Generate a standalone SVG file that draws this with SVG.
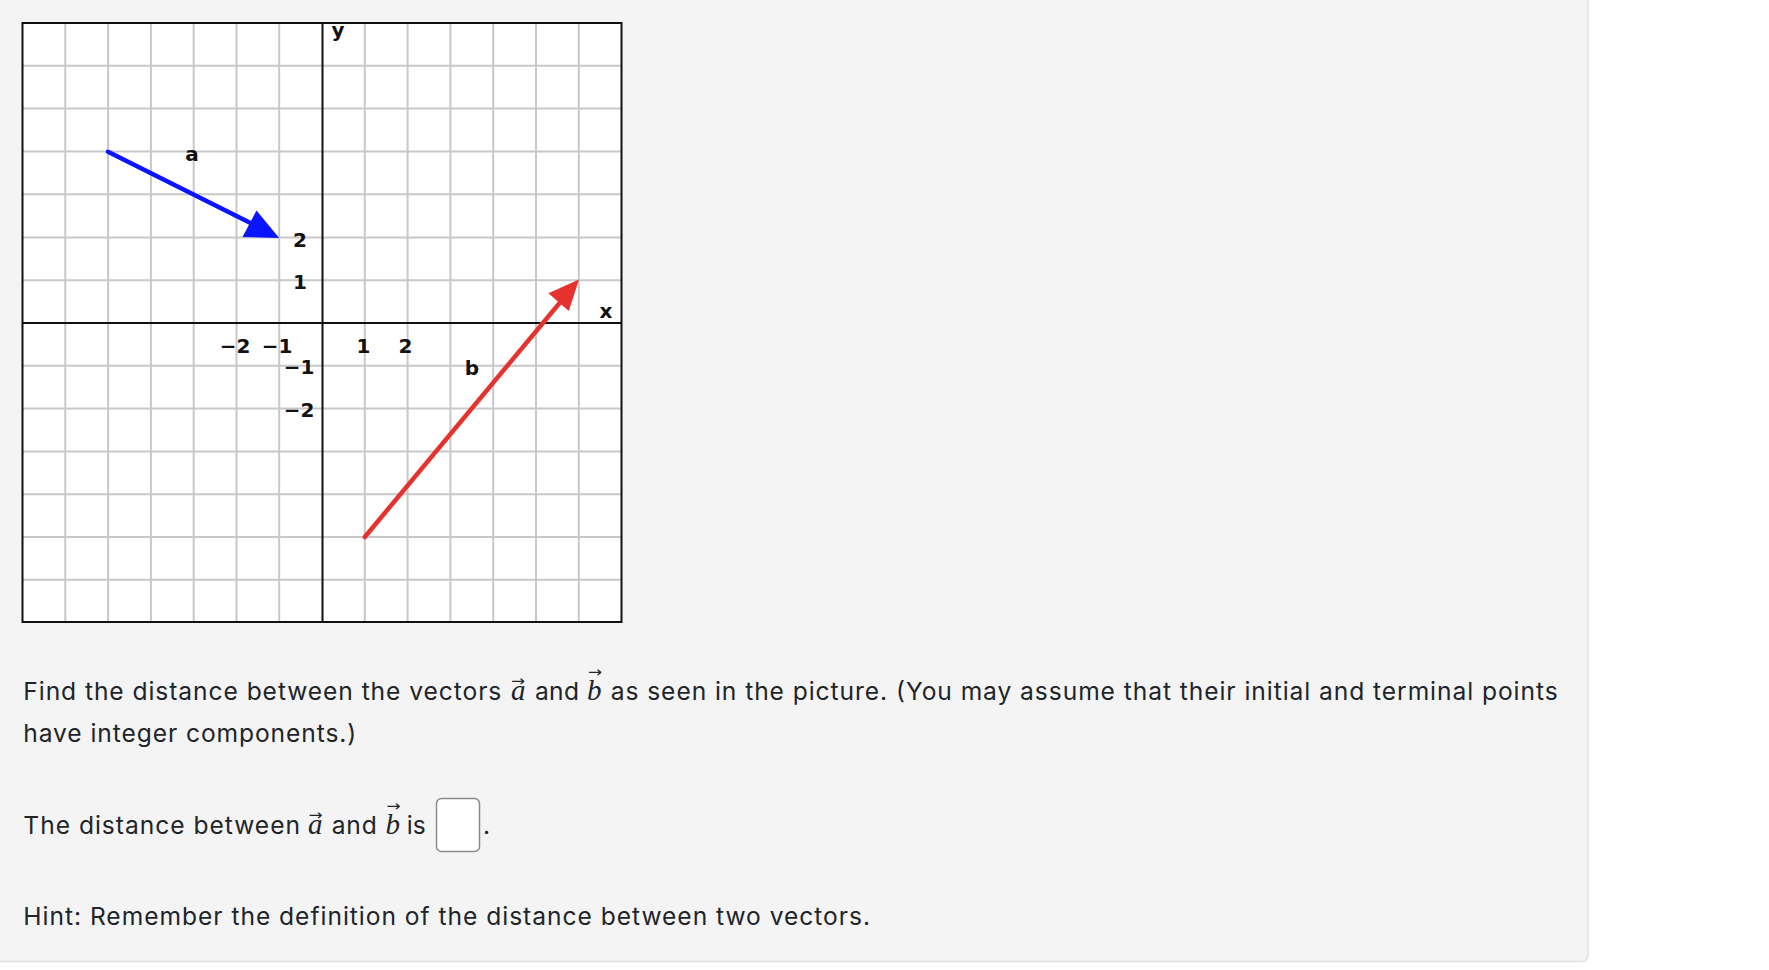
<svg xmlns="http://www.w3.org/2000/svg" width="1769" height="970" viewBox="0 0 1769 970">
  <style>
    .grid { stroke: #c8c8c8; stroke-width: 2; }
    .axis { stroke: #111; stroke-width: 2; }
    .lbl { font-family: "DejaVu Sans", "Liberation Sans", sans-serif; font-weight: bold; font-size: 20px; fill: #111; text-anchor: middle; }
    .txt { font-family: Inter, "Noto Sans", "Liberation Sans", sans-serif; font-size: 24.6px; fill: #212529; }
    .math { font-family: "Liberation Serif", "DejaVu Serif", serif; font-style: italic; font-size: 29px; fill: #212529; }
    .vec { font-family: "DejaVu Sans", "Liberation Sans", sans-serif; font-size: 15px; fill: #212529; }
  </style>
  <rect x="0" y="0" width="1769" height="970" fill="#ffffff"/>
  <rect id="panel" x="-10" y="-10" width="1598" height="971.5" rx="6" fill="#f4f4f4" stroke="#e2e2e2" stroke-width="1.5"/>

  <g id="graph">
    <rect x="22.5" y="23" width="599" height="599" fill="#ffffff"/>
    <g id="gridlines">
      <line class="grid" x1="65.3" y1="23" x2="65.3" y2="622"/>
      <line class="grid" x1="108.1" y1="23" x2="108.1" y2="622"/>
      <line class="grid" x1="150.9" y1="23" x2="150.9" y2="622"/>
      <line class="grid" x1="193.7" y1="23" x2="193.7" y2="622"/>
      <line class="grid" x1="236.5" y1="23" x2="236.5" y2="622"/>
      <line class="grid" x1="279.2" y1="23" x2="279.2" y2="622"/>
      <line class="grid" x1="364.8" y1="23" x2="364.8" y2="622"/>
      <line class="grid" x1="407.6" y1="23" x2="407.6" y2="622"/>
      <line class="grid" x1="450.4" y1="23" x2="450.4" y2="622"/>
      <line class="grid" x1="493.2" y1="23" x2="493.2" y2="622"/>
      <line class="grid" x1="536.0" y1="23" x2="536.0" y2="622"/>
      <line class="grid" x1="578.8" y1="23" x2="578.8" y2="622"/>
      <line class="grid" x1="22.5" y1="65.8" x2="621.5" y2="65.8"/>
      <line class="grid" x1="22.5" y1="108.6" x2="621.5" y2="108.6"/>
      <line class="grid" x1="22.5" y1="151.4" x2="621.5" y2="151.4"/>
      <line class="grid" x1="22.5" y1="194.2" x2="621.5" y2="194.2"/>
      <line class="grid" x1="22.5" y1="237.4" x2="621.5" y2="237.4"/>
      <line class="grid" x1="22.5" y1="280.2" x2="621.5" y2="280.2"/>
      <line class="grid" x1="22.5" y1="365.8" x2="621.5" y2="365.8"/>
      <line class="grid" x1="22.5" y1="408.6" x2="621.5" y2="408.6"/>
      <line class="grid" x1="22.5" y1="451.4" x2="621.5" y2="451.4"/>
      <line class="grid" x1="22.5" y1="494.2" x2="621.5" y2="494.2"/>
      <line class="grid" x1="22.5" y1="537.0" x2="621.5" y2="537.0"/>
      <line class="grid" x1="22.5" y1="579.8" x2="621.5" y2="579.8"/>
    </g>
    <g id="axes">
      <line class="axis" x1="322.5" y1="23" x2="322.5" y2="622"/>
      <line class="axis" x1="22.5" y1="323" x2="621.5" y2="323"/>
    </g>
    <rect x="22.5" y="23" width="599" height="599" fill="none" stroke="#111" stroke-width="2"/>
    <g id="labels">
      <text class="lbl" x="338" y="37">y</text>
      <text class="lbl" x="606" y="318">x</text>
      <text class="lbl" x="192" y="160.5">a</text>
      <text class="lbl" x="472" y="374.5">b</text>
      <text class="lbl" x="300" y="246.5">2</text>
      <text class="lbl" x="300" y="288.5">1</text>
      <text class="lbl" x="235" y="353">−2</text>
      <text class="lbl" x="277" y="353">−1</text>
      <text class="lbl" x="363.5" y="353">1</text>
      <text class="lbl" x="405.5" y="353">2</text>
      <text class="lbl" x="299" y="374">−1</text>
      <text class="lbl" x="299" y="416.5">−2</text>
    </g>
  </g>

  <g id="connectors">
    <g id="vector-a">
      <line x1="108" y1="151.8" x2="252" y2="223.8" stroke="#0a14ff" stroke-width="4.5" stroke-linecap="round"/>
      <polygon points="279.2,238 242.5,237 256.5,210.5" fill="#0a14ff"/>
    </g>
    <g id="vector-b">
      <line x1="364.8" y1="537" x2="560" y2="302.5" stroke="#e5322d" stroke-width="4.5" stroke-linecap="round"/>
      <polygon points="579,279.5 568.8,311 548.4,293.2" fill="#e5322d"/>
    </g>
  </g>

  <g id="question">
    <text class="txt" x="23.3" y="700" textLength="478" lengthAdjust="spacing">Find the distance between the vectors</text>
    <text class="math" x="511" y="700">a</text>
    <text class="vec" x="511" y="685.5" textLength="14" lengthAdjust="spacingAndGlyphs">→</text>
    <text class="txt" x="535" y="700" textLength="44" lengthAdjust="spacing">and</text>
    <text class="math" x="587" y="700">b</text>
    <text class="vec" x="588" y="677" textLength="14" lengthAdjust="spacingAndGlyphs">→</text>
    <text class="txt" x="610.7" y="700" textLength="947" lengthAdjust="spacing">as seen in the picture. (You may assume that their initial and terminal points</text>
    <text class="txt" x="23.3" y="741.7" textLength="333" lengthAdjust="spacing">have integer components.)</text>
  </g>

  <g id="answer">
    <text class="txt" x="23.3" y="834.3" textLength="276.7" lengthAdjust="spacing">The distance between</text>
    <text class="math" x="308" y="834.3">a</text>
    <text class="vec" x="308.5" y="819.5" textLength="14" lengthAdjust="spacingAndGlyphs">→</text>
    <text class="txt" x="331.7" y="834.3" textLength="45" lengthAdjust="spacing">and</text>
    <text class="math" x="385.5" y="834.3">b</text>
    <text class="vec" x="386.5" y="811" textLength="14" lengthAdjust="spacingAndGlyphs">→</text>
    <text class="txt" x="406.7" y="834.3">is</text>
    <rect id="answer-box" x="436.5" y="798.5" width="43" height="53" rx="5" fill="#ffffff" stroke="#8a8a8a" stroke-width="1.5"/>
    <text class="txt" x="483" y="834.3">.</text>
  </g>

  <g id="hint">
    <text class="txt" x="23.3" y="925" textLength="846.7" lengthAdjust="spacing">Hint: Remember the definition of the distance between two vectors.</text>
  </g>
</svg>
